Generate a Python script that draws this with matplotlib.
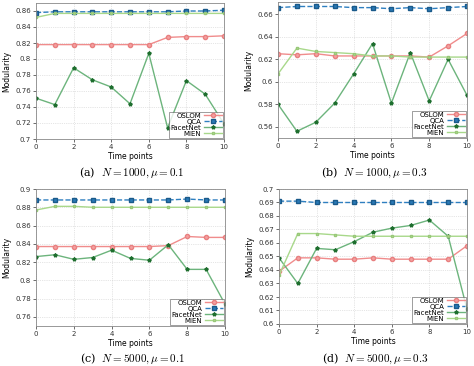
import matplotlib
matplotlib.use("Agg")
import matplotlib.pyplot as plt
import numpy as np

plt.rcParams['mathtext.fontset'] = 'cm'

x = list(range(11))

oslom_a = [0.818, 0.818, 0.818, 0.818, 0.818, 0.818, 0.818, 0.827, 0.828, 0.828, 0.829]
qca_a = [0.858, 0.859, 0.859, 0.859, 0.859, 0.859, 0.859, 0.859, 0.860, 0.860, 0.861]
facet_a = [0.751, 0.743, 0.789, 0.774, 0.765, 0.744, 0.807, 0.714, 0.773, 0.756, 0.719]
mien_a = [0.852, 0.857, 0.857, 0.857, 0.857, 0.857, 0.857, 0.857, 0.857, 0.857, 0.857]

oslom_b = [0.625, 0.624, 0.625, 0.623, 0.623, 0.623, 0.623, 0.623, 0.622, 0.632, 0.643]
qca_b = [0.666, 0.667, 0.667, 0.667, 0.666, 0.666, 0.665, 0.666, 0.665, 0.666, 0.667]
facet_b = [0.580, 0.556, 0.564, 0.581, 0.607, 0.634, 0.581, 0.626, 0.583, 0.620, 0.588]
mien_b = [0.607, 0.630, 0.627, 0.626, 0.625, 0.623, 0.623, 0.622, 0.622, 0.622, 0.622]

oslom_c = [0.837, 0.837, 0.837, 0.837, 0.837, 0.837, 0.837, 0.838, 0.848, 0.847, 0.847]
qca_c = [0.888, 0.888, 0.888, 0.888, 0.888, 0.888, 0.888, 0.888, 0.889, 0.888, 0.888]
facet_c = [0.826, 0.828, 0.823, 0.825, 0.833, 0.824, 0.822, 0.839, 0.812, 0.812, 0.774]
mien_c = [0.877, 0.881, 0.881, 0.880, 0.880, 0.880, 0.880, 0.880, 0.880, 0.880, 0.880]

oslom_d = [0.639, 0.649, 0.649, 0.648, 0.648, 0.649, 0.648, 0.648, 0.648, 0.648, 0.658]
qca_d = [0.691, 0.691, 0.690, 0.690, 0.690, 0.690, 0.690, 0.690, 0.690, 0.690, 0.690]
facet_d = [0.649, 0.630, 0.656, 0.655, 0.661, 0.668, 0.671, 0.673, 0.677, 0.665, 0.611]
mien_d = [0.636, 0.667, 0.667, 0.666, 0.665, 0.665, 0.665, 0.665, 0.665, 0.665, 0.665]

captions = [r"(a)  $N = 1000, \mu = 0.1$", r"(b)  $N = 1000, \mu = 0.3$",
            r"(c)  $N = 5000, \mu = 0.1$", r"(d)  $N = 5000, \mu = 0.3$"]
yticks_list = [[0.7, 0.72, 0.74, 0.76, 0.78, 0.8, 0.82, 0.84, 0.86],
               [0.56, 0.58, 0.6, 0.62, 0.64, 0.66],
               [0.76, 0.78, 0.8, 0.82, 0.84, 0.86, 0.88, 0.9],
               [0.6, 0.61, 0.62, 0.63, 0.64, 0.65, 0.66, 0.67, 0.68, 0.69, 0.7]]
ylims = [(0.7, 0.87), (0.55, 0.671), (0.75, 0.9), (0.6, 0.7)]
data = [(oslom_a, qca_a, facet_a, mien_a), (oslom_b, qca_b, facet_b, mien_b),
        (oslom_c, qca_c, facet_c, mien_c), (oslom_d, qca_d, facet_d, mien_d)]

W, H = 474, 366
fig = plt.figure(figsize=(W/100, H/100), dpi=100)
fig.patch.set_facecolor('white')

# pixel boxes: left, top, right, bottom
boxes = [(36, 3, 224, 139), (278, 2, 467, 138), (36, 189, 225, 326), (279, 189, 467, 324)]
cap_y = [173, 173, 359, 359]

def fmt(v):
    s = ('%.2f' % v).rstrip('0').rstrip('.')
    return s

for i, (box, cap) in enumerate(zip(boxes, captions)):
    l, t, r, b = box
    ax = fig.add_axes([l/W, 1 - b/H, (r-l)/W, (b-t)/H])
    o, q, f, m = data[i]
    ax.plot(x, o, '-', color='#f08c8c', lw=1.0, marker='o', ms=3.0, mfc='#f4a0a0', mec='#e88080', label='OSLOM')
    ax.plot(x, q, '--', color='#2e7fc0', lw=1.0, marker='s', ms=3.0, mfc='#2a7ab8', mec='#1a5a8a', label='QCA')
    ax.plot(x, f, '-', color='#6cb47c', lw=1.0, marker='*', ms=2.8, mfc='#1e6e2e', mec='#1e6e2e', label='FacetNet')
    ax.plot(x, m, '-', color='#a8d88a', lw=1.0, marker='s', ms=2.0, mfc='#c4e4a8', mec='#98c878', label='MIEN')
    ax.set_xlim(0, 10)
    ax.set_ylim(*ylims[i])
    ax.set_xticks([0, 2, 4, 6, 8, 10])
    ax.set_yticks(yticks_list[i])
    ax.set_yticklabels([fmt(v) for v in yticks_list[i]])
    ax.tick_params(labelsize=5, length=2, width=0.5, pad=1.5, colors='#333333')
    ax.grid(True, color='#cccccc', ls=':', lw=0.5)
    for s in ax.spines.values():
        s.set_color('#888888')
        s.set_linewidth(0.6)
    ax.set_xlabel('Time points', fontsize=5.5, labelpad=1.5)
    ax.set_ylabel('Modularity', fontsize=5.5, labelpad=3)
    leg = ax.legend(loc='lower right', fontsize=5, markerfirst=False, frameon=True,
                    fancybox=False, edgecolor='#555555', handlelength=2.6,
                    borderpad=0.15, labelspacing=0.0, handletextpad=0.4, borderaxespad=0.15)
    leg.get_frame().set_linewidth(0.5)
    for txt in leg.get_texts():
        txt.set_ha('right')
    cx = (l + r) / 2 + 2
    fig.text(cx/W, 1 - cap_y[i]/H, cap, ha='center', va='center', fontsize=8, family='serif')

fig.savefig('out.png', dpi=100)
